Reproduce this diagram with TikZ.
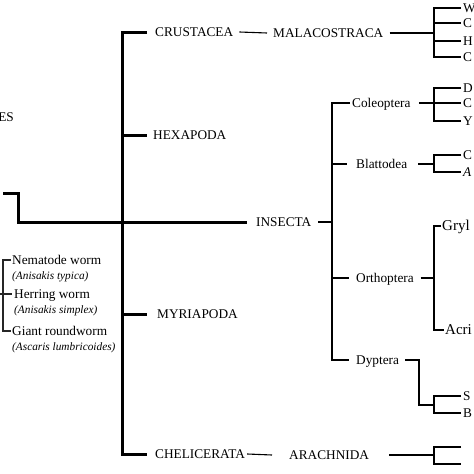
\documentclass[tikz,border=0pt]{standalone}
\usepackage{fontspec}
\setmainfont{Liberation Serif}
\begin{document}
\begin{tikzpicture}[x=1pt,y=-1pt,
  lbl/.style={font=\fontsize{13.3}{14}\selectfont, inner sep=0pt, anchor=west, text height=8.8pt, text depth=0pt},
  big/.style={font=\fontsize{15}{16}\selectfont, inner sep=0pt, anchor=west, text height=9.9pt, text depth=0pt},
  sp/.style={font=\fontsize{11.3}{12}\selectfont\itshape, inner sep=0pt, anchor=west, text height=7.5pt, text depth=0pt},
  main/.style={line width=3pt, line join=miter},
  sub/.style={line width=1.4pt, line join=miter},
  dsh/.style={line width=1.1pt},
  nem/.style={line width=1.8pt, draw=black!85, line join=miter}]
\useasboundingbox (0,0) rectangle (474,474);

% main taxa
\node[lbl] (crus) at (155,32) {CRUSTACEA};
\node[lbl] (hexa) at (153,135) {HEXAPODA};
\node[lbl] (ins) at (256,222) {INSECTA};
\node[lbl] (myr) at (157,314) {MYRIAPODA};
\node[lbl] (chel) at (155,454) {CHELICERATA};
\node[lbl] (mal) at (273,33) {MALACOSTRACA};
\node[lbl] (ara) at (289,455) {ARACHNIDA};
\node[lbl] (col) at (352,103) {Coleoptera};
\node[lbl] (bla) at (356,164) {Blattodea};
\node[lbl] (ort) at (356,278) {Orthoptera};
\node[lbl] (dyp) at (356,360) {Dyptera};

% leaves on the right edge
\node[lbl] (m1) at (463,8) {W};
\node[lbl] (m2) at (463,23) {C};
\node[lbl] (m3) at (463,41) {H};
\node[lbl] (m4) at (463,57) {C};
\node[lbl] (c1) at (463,88) {D};
\node[lbl] (c2) at (463,103) {C};
\node[lbl] (c3) at (463,121) {Y};
\node[lbl] (b1) at (463,155) {C};
\node[lbl] (b2) at (463,172) {\textit{A}};
\node[big] (g1) at (442,226) {Gryl};
\node[big] (a1) at (445,330) {Acri};
\node[lbl] (d1) at (463,396) {S};
\node[lbl] (d2) at (463,413) {B};
\coordinate (r1) at (461,447);
\coordinate (r2) at (461,464);

% left side
\node[lbl, anchor=east] (es) at (14,117) {ES};
\node[lbl] (n1) at (12,260) {Nematode worm};
\node[sp] (n1s) at (12,276) {(Anisakis typica)};
\node[lbl] (n2) at (14,294) {Herring worm};
\node[sp] (n2s) at (14,310) {(Anisakis simplex)};
\node[lbl] (n3) at (12,331) {Giant roundworm};
\node[sp] (n3s) at (12,347) {(Ascaris lumbricoides)};

% helper columns
\coordinate (spine) at (122,0);
\coordinate (iv) at (332,0);
\coordinate (bx) at (434,0);
\coordinate (nb) at (3,0);
\coordinate (nl) at (0,0);
\coordinate (root) at (3,193);
\coordinate (rk) at (18,193);

% main spine
\draw[main] ([xshift=-8pt]crus.west) -- (crus.west -| spine) -- (chel.west -| spine) -- ([xshift=-8pt]chel.west);
\draw[main] (hexa.west -| spine) -- ([xshift=-6pt]hexa.west);
\draw[main] (myr.west -| spine) -- ([xshift=-10pt]myr.west);
\draw[main] (root) -- (rk) |- ([xshift=-9pt]ins.west);

% short dashes
\draw[dsh] ([xshift=6pt]crus.east) -- ([xshift=-6pt]mal.west);
\draw[dsh] ([xshift=2pt]chel.east) -- ([xshift=-17pt]ara.west);

% insecta subtree
\draw[sub] ([xshift=7pt]ins.east) -- (ins.east -| iv);
\draw[sub] ([xshift=-2pt]col.west) -- (col.west -| iv) -- (dyp.west -| iv) -- ([xshift=-7pt]dyp.west);
\draw[sub] (bla.west -| iv) -- ([xshift=-9pt]bla.west);
\draw[sub] (ort.west -| iv) -- ([xshift=-7pt]ort.west);

% malacostraca
\draw[sub] ([xshift=6pt]mal.east) -- (mal.east -| bx);
\draw[sub] ([xshift=-2pt]m1.west) -| (m4.west -| bx) -- ([xshift=-2pt]m4.west);
\draw[sub] (m2.west -| bx) -- ([xshift=-2pt]m2.west);
\draw[sub] (m3.west -| bx) -- ([xshift=-2pt]m3.west);

% coleoptera
\draw[sub] ([xshift=8pt]col.east) -- ([xshift=-2pt]c2.west);
\draw[sub] ([xshift=-2pt]c1.west) -| (c3.west -| bx) -- ([xshift=-2pt]c3.west);

% blattodea
\draw[sub] ([xshift=11pt]bla.east) -- (bla.east -| bx);
\draw[sub] ([xshift=-2pt]b1.west) -| (b2.west -| bx) -- ([xshift=-2pt]b2.west);

% orthoptera
\draw[sub] ([xshift=6.5pt]ort.east) -- (ort.east -| bx);
\draw[sub] ([xshift=-1pt]g1.west) -| (a1.west -| bx) -- ([xshift=-1pt]a1.west);

% dyptera
\coordinate (dk) at (419,405);
\draw[sub] ([xshift=6pt]dyp.east) -| (dk) -- (dk -| bx);
\draw[sub] ([xshift=-2pt]d1.west) -| (d2.west -| bx) -- ([xshift=-2pt]d2.west);

% arachnida
\draw[sub] ([xshift=20pt]ara.east) -- (ara.east -| bx);
\draw[sub] (r1) -| (r2 -| bx) -- (r2);

% nematode bracket
\draw[nem] ([xshift=-1.5pt]n1.west) -| (n3.west -| nb) -- ([xshift=-1.5pt]n3.west);
\draw[nem] (n2.west -| nl) -- ([xshift=-2pt]n2.west);
\end{tikzpicture}
\end{document}
